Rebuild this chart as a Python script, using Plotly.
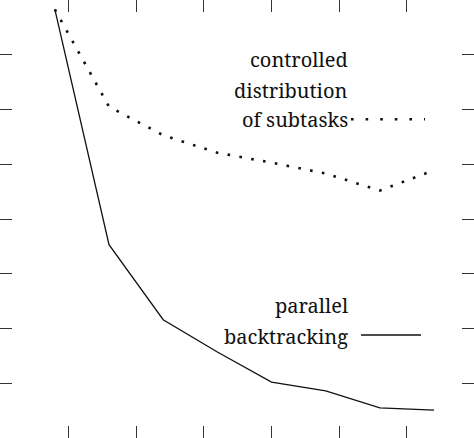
import plotly.graph_objects as go

# data
x_vals = [4, 8, 12, 16, 20, 24, 28, 32]
parallel_backtracking = [7.83, 3.53, 2.16, 1.57, 1.02, 0.86, 0.55, 0.51]
controlled_distribution = [7.83, 6.05, 5.53, 5.21, 5.03, 4.83, 4.52, 4.89]
x_ticks = [0, 5, 10, 15, 20, 25, 30, 35]
y_ticks = [0, 1, 2, 3, 4, 5, 6, 7, 8]

W, H = 474, 438
FONT = "Noto Serif, DejaVu Serif, serif"

fig = go.Figure()
fig.add_trace(go.Scatter(x=x_vals, y=parallel_backtracking, mode="lines",
                         line=dict(color="#111111", width=1.3), showlegend=False))
fig.add_trace(go.Scatter(x=x_vals, y=controlled_distribution, mode="lines",
                         line=dict(color="#111111", width=2.6, dash="2.6px,9.4px"),
                         showlegend=False))

def px(xp):
    return xp / W

def py(yp):
    return 1 - yp / H

labels = [
    ("controlled", 59.8),
    ("distribution", 90.5),
    ("of subtasks", 119.5),
    ("parallel", 305.5),
    ("backtracking", 336.0),
]
for txt, yc in labels:
    fig.add_annotation(text=txt, x=px(350), y=py(yc), xref="paper", yref="paper",
                       xanchor="right", yanchor="middle", showarrow=False,
                       font=dict(family=FONT, size=20, color="#111111"))

fig.add_shape(type="line", xref="paper", yref="paper",
              x0=px(351), x1=px(425), y0=py(119.3), y1=py(119.3),
              line=dict(color="#111111", width=2.6, dash="2.6px,12px"))
fig.add_shape(type="line", xref="paper", yref="paper",
              x0=px(361), x1=px(421), y0=py(335), y1=py(335),
              line=dict(color="#111111", width=1.3))

axis_common = dict(showgrid=False, zeroline=False, showline=False,
                   ticks="inside", ticklen=12, tickwidth=1.3, tickcolor="#333333",
                   showticklabels=False, mirror="ticks")
fig.update_xaxes(range=[-0.05, 34.95], tickvals=x_ticks, **axis_common)
fig.update_yaxes(range=[0, 8], tickvals=y_ticks, **axis_common)

fig.update_layout(width=W, height=H, margin=dict(l=0, r=0, t=0, b=0),
                  plot_bgcolor="white", paper_bgcolor="white",
                  font=dict(family=FONT))

fig.write_html("out.html")
